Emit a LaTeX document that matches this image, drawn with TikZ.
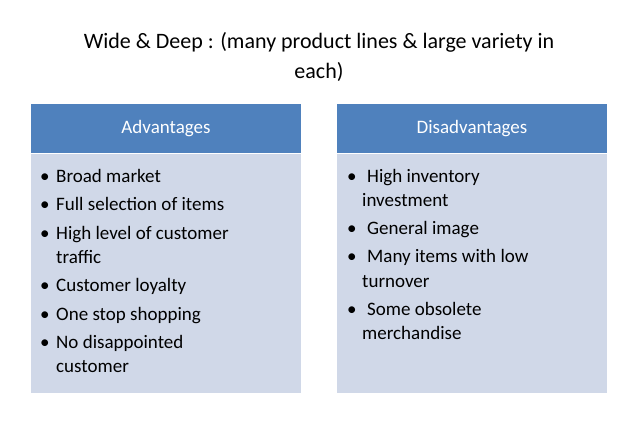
\documentclass[tikz,border=0pt]{standalone}
\usepackage{fontspec}
\setmainfont{Carlito}
\begin{document}
\begin{tikzpicture}[x=1pt,y=-1pt,
  hdr/.style={fill=hblue,draw=white,line width=1pt},
  bodybox/.style={fill=bblue,draw=white,line width=1pt},
  ln/.style={anchor=base west,inner sep=0pt,font=\fontsize{19}{22}\selectfont},
  bl/.style={anchor=base west,inner sep=0pt,font=\fontsize{19}{22}\selectfont}]
\definecolor{hblue}{HTML}{4F81BD}
\definecolor{bblue}{HTML}{D0D8E8}
\useasboundingbox (0,0) rectangle (638,442);
\node[font=\fontsize{22}{30}\selectfont,align=center] (title) at (319,57) {Wide \& Deep : (many product lines \& large variety in\\each)};
\fill[hblue] (31,104) rectangle (301,153);
\fill[bblue] (31,154) rectangle (301,393);
\fill[hblue] (337,104) rectangle (607,153);
\fill[bblue] (337,154) rectangle (607,393);
\node[text=white,font=\fontsize{19}{22}\selectfont] (ha) at (166,129) {Advantages};
\node[text=white,font=\fontsize{19}{22}\selectfont] (hd) at (472,129) {Disadvantages};
\foreach \y/\t/\b in {182/Broad market/1,210/Full selection of items/1,239/High level of customer/1,263/traffic/0,291/Customer loyalty/1,320/One stop shopping/1,348/No disappointed/1,372/customer/0}{
  \ifnum\b=1 \node[bl] at (40,\y) {•};\fi
  \node[ln] at (56,\y) {\t};
}
\foreach \y/\t/\b in {182/High inventory/1,206/investment/0,234/General image/1,262/Many items with low/1,287/turnover/0,315/Some obsolete/1,339/merchandise/0}{
  \ifnum\b=1 \node[bl] at (347,\y) {•};\fi
  \node[ln] at (\ifnum\b=1 367\else 362\fi,\y) {\t};
}
\end{tikzpicture}
\end{document}
